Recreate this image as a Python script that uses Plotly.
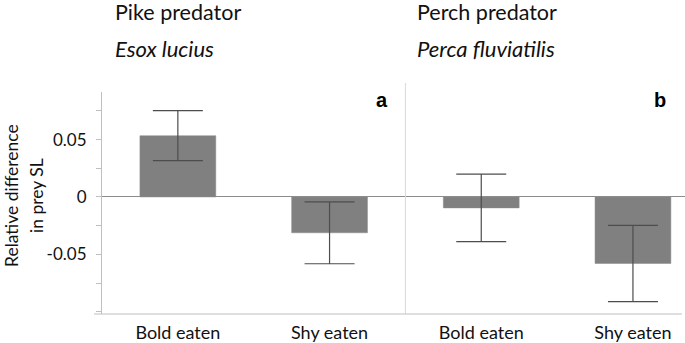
import plotly.graph_objects as go

categories = ["Bold eaten", "Shy eaten", "Bold eaten", "Shy eaten"]
values = [0.0534, -0.0312, -0.0095, -0.058]
errors = [0.0218, 0.0270, 0.0295, 0.0333]
panel_titles = ["Pike predator", "Perch predator"]
species = ["Esox lucius", "Perca fluviatilis"]
panel_letters = ["a", "b"]
ytitle_lines = ["Relative difference", "in prey SL"]
tick_vals = [0.075, 0.05, 0.025, 0, -0.025, -0.05, -0.075, -0.1]
tick_text = ["", "0.05", "", "0", "", "-0.05", "", ""]

W, H = 685, 343
L, R, T, B = 102, 0, 92, 29
pw = W - L - R
ph = H - T - B

FONT = "Lato"

def px_x(px):
    return (px - L) / pw

def px_y(py):
    return (H - B - py) / ph

fig = go.Figure()
fig.add_trace(go.Bar(
    x=list(range(len(values))),
    y=values,
    width=0.5,
    marker=dict(color="#808080", line=dict(color="#8c8c8c", width=0.5)),
    error_y=dict(type="data", array=errors, visible=True, color="#4d4d4d",
                 thickness=1.2, width=25),
))

annotations = []
for i, (t, s) in enumerate(zip(panel_titles, species)):
    x0 = [113, 415][i]
    annotations.append(dict(text=t, xref="paper", yref="paper", x=px_x(x0), y=px_y(12),
                            xanchor="left", yanchor="middle", showarrow=False,
                            font=dict(family=FONT, size=21.5, color="#111")))
    annotations.append(dict(text="<i>" + s + "</i>", xref="paper", yref="paper", x=px_x(x0), y=px_y(48),
                            xanchor="left", yanchor="middle", showarrow=False,
                            font=dict(family=FONT, size=22, color="#111")))
for i, lt in enumerate(panel_letters):
    xc = [382, 660][i]
    annotations.append(dict(text="<b>" + lt + "</b>", xref="paper", yref="paper", x=px_x(xc), y=px_y(100),
                            xanchor="center", yanchor="middle", showarrow=False,
                            font=dict(family="Liberation Sans", size=20, color="#000")))
for i, line in enumerate(ytitle_lines):
    xc = [11, 36][i]
    annotations.append(dict(text=line, xref="paper", yref="paper",
                            x=px_x(xc), y=px_y(196), xanchor="center", yanchor="middle",
                            textangle=-90, showarrow=False,
                            font=dict(family=FONT, size=17.5, color="#111")))

shapes = [
    dict(type="line", xref="x", yref="paper", x0=1.5, x1=1.5, y0=0, y1=px_y(83),
         line=dict(color="#d9d9d9", width=1)),
    dict(type="line", xref="paper", yref="paper", x0=px_x(94), x1=px_x(682), y0=0, y1=0,
         line=dict(color="#bfbfbf", width=1.2)),
]

fig.update_layout(
    width=W, height=H,
    margin=dict(l=L, r=R, t=T, b=B),
    plot_bgcolor="white", paper_bgcolor="white",
    showlegend=False,
    annotations=annotations,
    shapes=shapes,
    bargap=0.5,
)
fig.update_xaxes(
    range=[-0.5, -0.5 + pw / 151.7],
    tickvals=list(range(len(categories))),
    ticktext=categories,
    showline=False, showgrid=False, zeroline=False, ticks="",
    ticklabelstandoff=6,
    tickfont=dict(family=FONT, size=18, color="#111"),
)
fig.update_yaxes(
    range=[-0.102, 0.0915],
    tickvals=tick_vals, ticktext=tick_text,
    ticks="outside", ticklen=5, tickcolor="#bfbfbf", tickwidth=1,
    ticklabelstandoff=6,
    showline=True, linecolor="#bfbfbf", linewidth=1.2,
    showgrid=False,
    zeroline=True, zerolinecolor="#8c8c8c", zerolinewidth=1,
    tickfont=dict(family=FONT, size=17, color="#111"),
)

fig.write_html("out.html", config={"displayModeBar": False},
               post_script="document.body.style.margin='0';")
